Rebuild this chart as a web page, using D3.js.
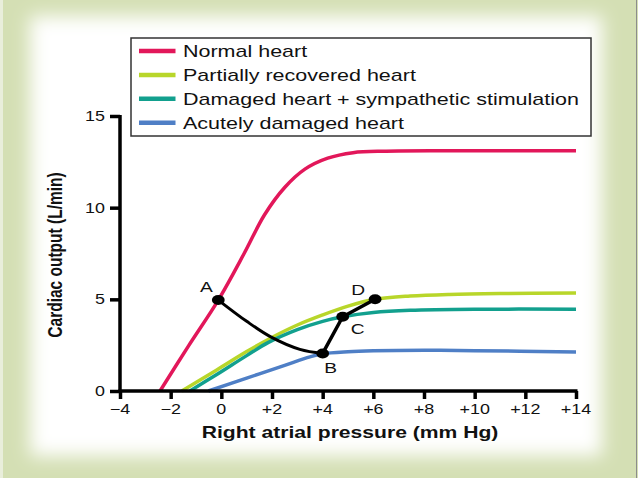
<!DOCTYPE html>
<html>
<head>
<meta charset="utf-8">
<script src="https://cdn.jsdelivr.net/npm/d3@7"></script>
<style>
  body { margin: 0; background: #fff; }
  svg { display: block; }
  text { font-family: "Liberation Sans", Arial, sans-serif; fill: #111; }
</style>
</head>
<body>
<div id="chart"></div>
<script>
// ---- data ----
const xTicks = [-4, -2, 0, 2, 4, 6, 8, 10, 12, 14];
const yTicks = [0, 5, 10, 15];

const seriesNames = ["Normal heart", "Partially recovered heart",
  "Damaged heart + sympathetic stimulation", "Acutely damaged heart"];
const seriesColors = ["#e2175a", "#b8d62a", "#12a08e", "#4f7fc6"];

const normalX = [-2.42, -1.3, -0.12, 0.9, 1.7, 2.5, 3.3, 4.2, 5.2, 6.5, 9, 14];
const normalY = [0, 2.45, 4.96, 7.5, 9.6, 11.1, 12.1, 12.7, 13.0, 13.08, 13.1, 13.1];

const recoveredX = [-1.56, -0.18, 1.0, 2.05, 3.0, 4.0, 5.0, 6.07, 7.45, 9, 11, 14];
const recoveredY = [0, 1.15, 2.15, 2.96, 3.6, 4.15, 4.63, 5.0, 5.18, 5.27, 5.32, 5.35];

const sympatheticX = [-1.24, -0.18, 1.0, 1.86, 3.0, 4.0, 4.79, 6.0, 7.45, 10, 14];
const sympatheticY = [0, 0.9, 1.93, 2.65, 3.35, 3.8, 4.05, 4.28, 4.4, 4.46, 4.46];

const acuteX = [-0.51, 1.0, 2.5, 3.5, 4.0, 5.0, 6.0, 8, 10, 14];
const acuteY = [0, 0.7, 1.4, 1.86, 2.03, 2.14, 2.19, 2.22, 2.2, 2.13];

// path A -> B (curved), then B -> C -> D
const pathABx = [-0.12, 1.0, 1.95, 3.1, 4.0];
const pathABy = [4.96, 3.8, 2.95, 2.27, 2.05];

const pointNames = ["A", "B", "C", "D"];
const pointX = [-0.12, 4.0, 4.79, 6.07];
const pointY = [4.96, 2.05, 4.05, 5.0];

// ---- layout ----
const W = 638, H = 478;
const SX = 1.28; // the picture is stretched sideways, text too

const x = d3.scaleLinear().domain([-4, 14]).range([120, 576]);
const y = d3.scaleLinear().domain([0, 15]).range([391, 116]);

const svg = d3.select('#chart').append('svg')
  .attr('width', W).attr('height', H);

// green frame with a soft white middle
const defs = svg.append('defs');
defs.append('filter').attr('id', 'soft')
  .attr('x', '-10%').attr('y', '-10%').attr('width', '120%').attr('height', '120%')
  .append('feGaussianBlur').attr('stdDeviation', 9);

svg.append('rect').attr('width', W).attr('height', H).attr('fill', '#d4dfb4');
svg.append('rect')
  .attr('x', 30).attr('y', 16).attr('width', 572).attr('height', 440)
  .attr('fill', '#fff').attr('filter', 'url(#soft)');
svg.append('rect').attr('x', 0).attr('y', 0).attr('width', 3).attr('height', H).attr('fill', '#e9eedb');
svg.append('line').attr('x1', 636.5).attr('x2', 636.5).attr('y1', 0).attr('y2', H)
  .attr('stroke', '#8c8c8c').attr('stroke-width', 1);

function stretched(sel, tx, ty) {
  return sel.attr('transform', `translate(${tx},${ty}) scale(${SX},1)`);
}

// ---- curves ----
const line = d3.line().x(d => x(d[0])).y(d => y(d[1])).curve(d3.curveCatmullRom.alpha(0.5));
const curves = [
  d3.zip(normalX, normalY),
  d3.zip(recoveredX, recoveredY),
  d3.zip(sympatheticX, sympatheticY),
  d3.zip(acuteX, acuteY)
];

svg.append('g').selectAll('path').data(curves).join('path')
  .attr('d', line)
  .attr('fill', 'none')
  .attr('stroke', (d, i) => seriesColors[i])
  .attr('stroke-width', 3.5);

// ---- axes ----
const xAxis = svg.append('g').attr('transform', `translate(0,${y(0)})`)
  .call(d3.axisBottom(x).tickValues(xTicks).tickSize(8).tickFormat(() => ''));
const yAxis = svg.append('g').attr('transform', `translate(${x(-4)},0)`)
  .call(d3.axisLeft(y).tickValues(yTicks).tickSize(10).tickFormat(() => ''));
[xAxis, yAxis].forEach(g => {
  g.select('.domain').attr('stroke', '#000').attr('stroke-width', 3.5)
    .attr('d', g === xAxis ? `M${x(-4) - 1.5},0H${x(14) + 1.5}` : `M0,${y(0) + 1.5}V${y(15) - 1}`);
  g.selectAll('.tick line').attr('stroke', '#000').attr('stroke-width', 3.5);
});

const fmtX = v => v < 0 ? '\u2212' + Math.abs(v) : (v === 0 ? '0' : '+' + v);
svg.append('g').selectAll('text').data(xTicks).join('text')
  .each(function (d) { stretched(d3.select(this), x(d), 414); })
  .attr('text-anchor', 'middle')
  .style('font-size', '14px')
  .text(fmtX);

svg.append('g').selectAll('text').data(yTicks).join('text')
  .each(function (d) { stretched(d3.select(this), 105, y(d) + 5); })
  .attr('text-anchor', 'end')
  .style('font-size', '14px')
  .text(d => d);

stretched(svg.append('text'), 350, 438)
  .attr('text-anchor', 'middle')
  .style('font-size', '16.5px').style('font-weight', 'bold')
  .text('Right atrial pressure (mm Hg)');

svg.append('text')
  .attr('transform', `translate(62,255) scale(${SX},1) rotate(-90)`)
  .attr('text-anchor', 'middle')
  .style('font-size', '15.5px').style('font-weight', 'bold')
  .text('Cardiac output (L/min)');

// ---- A-B-C-D path ----
const pathLine = d3.line().x(d => x(d[0])).y(d => y(d[1])).curve(d3.curveCatmullRom);
svg.append('path')
  .attr('d', pathLine(d3.zip(pathABx, pathABy)))
  .attr('fill', 'none').attr('stroke', '#000').attr('stroke-width', 3);
svg.append('path')
  .attr('d', d3.line().x(d => x(d[0])).y(d => y(d[1]))(d3.zip(pointX, pointY).slice(1)))
  .attr('fill', 'none').attr('stroke', '#000').attr('stroke-width', 3.5);

svg.append('g').selectAll('ellipse').data(pointNames).join('ellipse')
  .attr('cx', (d, i) => x(pointX[i]))
  .attr('cy', (d, i) => y(pointY[i]))
  .attr('rx', 6.4).attr('ry', 5)
  .attr('fill', '#000');

const labelOffset = [[-12, -8], [8, 20], [15, 17], [-17, -4]];
svg.append('g').selectAll('text').data(pointNames).join('text')
  .each(function (d, i) {
    stretched(d3.select(this), x(pointX[i]) + labelOffset[i][0], y(pointY[i]) + labelOffset[i][1]);
  })
  .attr('text-anchor', 'middle')
  .style('font-size', '15px')
  .text(d => d);

// ---- legend ----
const legend = svg.append('g');
legend.append('rect')
  .attr('x', 131).attr('y', 38).attr('width', 460).attr('height', 98)
  .attr('fill', '#fff').attr('stroke', '#333').attr('stroke-width', 1.5);
const rowY = i => 51 + i * 23.9;
legend.selectAll('line').data(seriesNames).join('line')
  .attr('x1', 139).attr('x2', 175.5)
  .attr('y1', (d, i) => rowY(i)).attr('y2', (d, i) => rowY(i))
  .attr('stroke', (d, i) => seriesColors[i]).attr('stroke-width', 4.5);
legend.selectAll('text').data(seriesNames).join('text')
  .each(function (d, i) { stretched(d3.select(this), 183, rowY(i) + 6); })
  .style('font-size', '16.8px')
  .text(d => d);
</script>
</body>
</html>
